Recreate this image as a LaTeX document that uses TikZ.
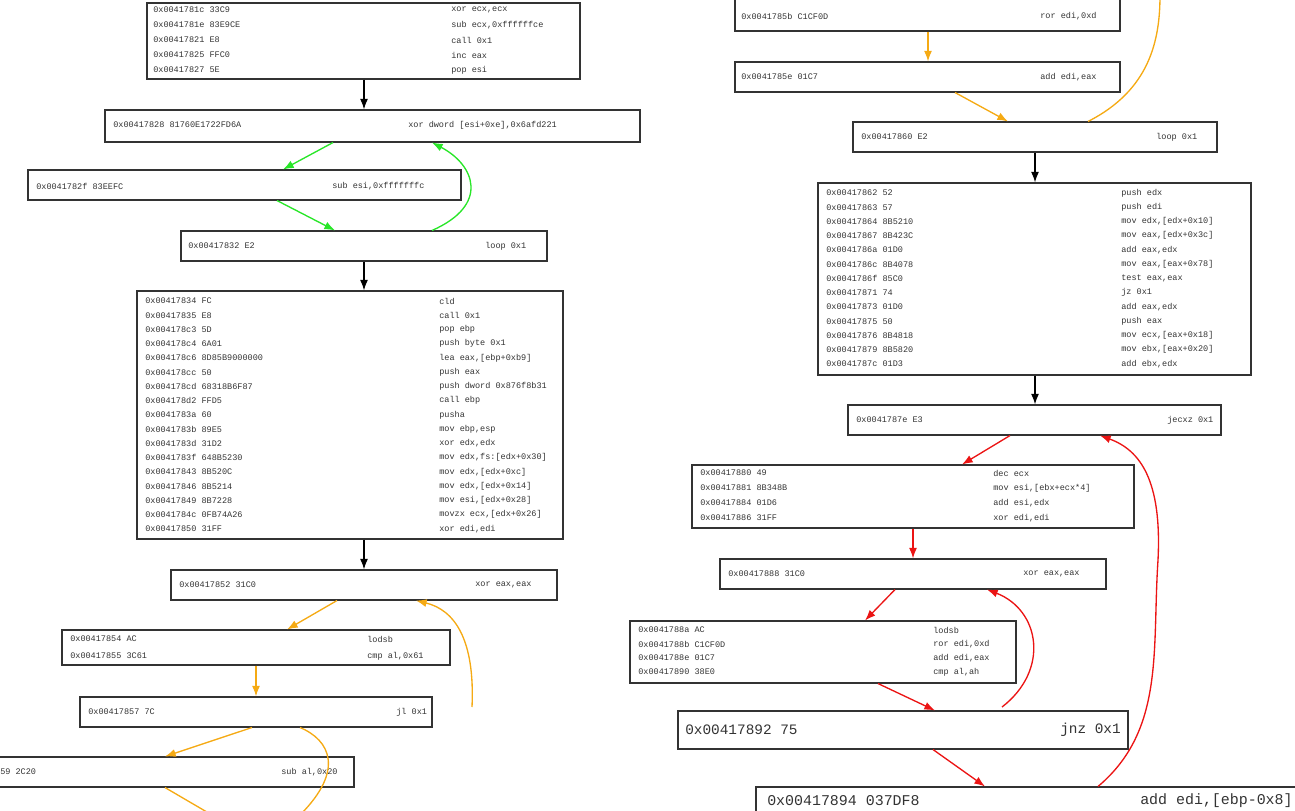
\documentclass[tikz,border=0pt]{standalone}
\usepackage{fontspec}
\setmonofont{Liberation Mono}
\usetikzlibrary{fit,arrows.meta}
\definecolor{gr}{RGB}{40,230,40}
\definecolor{og}{RGB}{245,170,20}
\definecolor{rd}{RGB}{235,20,20}
\tikzset{
 box/.style={draw=black!80,line width=0.8pt,inner sep=0pt},
 t/.style={anchor=west,inner sep=0pt,font=\ttfamily\fontsize{6.4}{7}\selectfont,text=black!80},
 tb/.style={anchor=west,inner sep=0pt,font=\ttfamily\fontsize{10.8}{12}\selectfont,text=black!80},
 e/.style={-{Latex[length=8pt,width=6pt]},line width=1pt},
 ge/.style={e,gr}, oe/.style={e,og}, re/.style={e,rd}, be/.style={e,black}
}
\newcommand{\bx}[5]{\node[box,fit={(#2,#3)(#4,#5)}] (#1) {};}
\newcommand{\lines}[5]{\foreach \a/\b [count=\i from 0] in {#5} {\node[t] at (#1,#3+\i*#4) {\a}; \node[t] at (#2,#3+\i*#4) {\b};}}
\begin{document}
\begin{tikzpicture}[x=0.75pt,y=-0.75pt]
\useasboundingbox (0,0) rectangle (1295,810);
\clip (0,0) rectangle (1295,810);
% left column
\bx{l1}{147}{3}{580}{79}
\lines{153}{451}{10}{15}{0x0041781c 33C9/{xor ecx,ecx},0x0041781e 83E9CE/{sub ecx,0xffffffce},0x00417821 E8/call 0x1,0x00417825 FFC0/inc eax,0x00417827 5E/pop esi}
\bx{l2}{105}{110}{640}{142}
\node[t] at (113,125) {0x00417828 81760E1722FD6A};
\node[t] at (408,125) {xor dword [esi+0xe],0x6afd221};
\bx{l3}{28}{170}{461}{200}
\node[t] at (36,186) {0x0041782f 83EEFC};
\node[t] at (332,186) {sub esi,0xfffffffc};
\bx{l4}{181}{231}{547}{261}
\node[t] at (188,246) {0x00417832 E2};
\node[t] at (485,246) {loop 0x1};
\bx{l5}{137}{291}{563}{539}
\lines{145}{439}{301}{14.25}{0x00417834 FC/cld,0x00417835 E8/call 0x1,0x004178c3 5D/pop ebp,0x004178c4 6A01/push byte 0x1,0x004178c6 8D85B9000000/{lea eax,[ebp+0xb9]},0x004178cc 50/push eax,0x004178cd 68318B6F87/push dword 0x876f8b31,0x004178d2 FFD5/call ebp,0x0041783a 60/pusha,0x0041783b 89E5/{mov ebp,esp},0x0041783d 31D2/{xor edx,edx},0x0041783f 648B5230/{mov edx,fs:[edx+0x30]},0x00417843 8B520C/{mov edx,[edx+0xc]},0x00417846 8B5214/{mov edx,[edx+0x14]},0x00417849 8B7228/{mov esi,[edx+0x28]},0x0041784c 0FB74A26/{movzx ecx,[edx+0x26]},0x00417850 31FF/{xor edi,edi}}
\bx{l6}{171}{570}{557}{600}
\node[t] at (179,585) {0x00417852 31C0};
\node[t] at (475,585) {xor eax,eax};
\bx{l7}{62}{630}{450}{665}
\lines{70}{367}{639}{17}{0x00417854 AC/lodsb,0x00417855 3C61/{cmp al,0x61}}
\bx{l8}{80}{697}{432}{727}
\node[t] at (88,712) {0x00417857 7C};
\node[t] at (396,712) {jl 0x1};
\bx{l9}{-10}{757}{354}{787}
\node[t] at (0,772) {59 2C20};
\node[t] at (281,772) {sub al,0x20};
% right column
\bx{r1}{735}{-5}{1120}{31}
\node[t] at (741,16) {0x0041785b C1CF0D};
\node[t] at (1040,16) {ror edi,0xd};
\bx{r2}{735}{62}{1120}{92}
\node[t] at (741,77) {0x0041785e 01C7};
\node[t] at (1040,77) {add edi,eax};
\bx{r3}{853}{122}{1217}{152}
\node[t] at (861,137) {0x00417860 E2};
\node[t] at (1156,137) {loop 0x1};
\bx{r4}{818}{183}{1251}{375}
\lines{826}{1121}{193}{14.25}{0x00417862 52/push edx,0x00417863 57/push edi,0x00417864 8B5210/{mov edx,[edx+0x10]},0x00417867 8B423C/{mov eax,[edx+0x3c]},0x0041786a 01D0/{add eax,edx},0x0041786c 8B4078/{mov eax,[eax+0x78]},0x0041786f 85C0/{test eax,eax},0x00417871 74/jz 0x1,0x00417873 01D0/{add eax,edx},0x00417875 50/push eax,0x00417876 8B4818/{mov ecx,[eax+0x18]},0x00417879 8B5820/{mov ebx,[eax+0x20]},0x0041787c 01D3/{add ebx,edx}}
\bx{r5}{848}{405}{1221}{435}
\node[t] at (856,420) {0x0041787e E3};
\node[t] at (1167,420) {jecxz 0x1};
\bx{r6}{692}{465}{1134}{528}
\lines{700}{993}{473}{15}{0x00417880 49/dec ecx,0x00417881 8B348B/{mov esi,[ebx+ecx*4]},0x00417884 01D6/{add esi,edx},0x00417886 31FF/{xor edi,edi}}
\bx{r7}{720}{559}{1106}{589}
\node[t] at (728,574) {0x00417888 31C0};
\node[t] at (1023,574) {xor eax,eax};
\bx{r8}{630}{621}{1016}{683}
\lines{638}{933}{630}{14}{0x0041788a AC/lodsb,0x0041788b C1CF0D/{ror edi,0xd},0x0041788e 01C7/{add edi,eax},0x00417890 38E0/{cmp al,ah}}
\bx{r9}{678}{711}{1128}{749}
\node[tb] at (685,730) {0x00417892 75};
\node[tb] at (1060,730) {jnz 0x1};
\bx{r10}{756}{787}{1320}{830}
\node[tb,font=\ttfamily\fontsize{11.2}{12}\selectfont] at (767,801) {0x00417894 037DF8};
\node[tb,font=\ttfamily\fontsize{11.2}{12}\selectfont] at (1140,801) {add edi,[ebp-0x8]};
% edges left
\draw[be] (364,0|-l1.south) -- (364,0|-l2.north);
\draw[ge] (333,0|-l2.south) -- (283,0|-l3.north);
\draw[ge] (277,0|-l3.south) -- (335,0|-l4.north);
\draw[ge] (432,0|-l4.north) .. controls (490,205) and (475,165) .. (432,0|-l2.south);
\draw[be] (364,0|-l4.south) -- (364,0|-l5.north);
\draw[be] (364,0|-l5.south) -- (364,0|-l6.north);
\draw[oe] (337,0|-l6.south) -- (287,0|-l7.north);
\draw[oe] (256,0|-l7.south) -- (256,0|-l8.north);
\draw[oe] (472,707) .. controls (475,640) and (455,610) .. (416,0|-l6.south);
\draw[oe] (252,0|-l8.south) -- (165,0|-l9.north);
\draw[og,line width=1pt] (300,0|-l8.south) .. controls (330,740) and (345,770) .. (300,815);
\draw[og,line width=1pt] (165,0|-l9.south) -- (212,815);
% edges right
\draw[oe] (928,0|-r1.south) -- (928,0|-r2.north);
\draw[oe] (955,0|-r2.south) -- (1008,0|-r3.north);
\draw[og,line width=1pt] (1088,0|-r3.north) .. controls (1150,90) and (1160,40) .. (1160,-5);
\draw[be] (1035,0|-r3.south) -- (1035,0|-r4.north);
\draw[be] (1035,0|-r4.south) -- (1035,0|-r5.north);
\draw[re] (1010,0|-r5.south) -- (962,0|-r6.north);
\draw[re] (913,0|-r6.south) -- (913,0|-r7.north);
\draw[re] (895,0|-r7.south) -- (865,0|-r8.north);
\draw[re] (1002,707) .. controls (1050,670) and (1040,610) .. (987,0|-r7.south);
\draw[re] (878,0|-r8.south) -- (935,0|-r9.north);
\draw[re] (933,0|-r9.south) -- (985,0|-r10.north);
\draw[re] (1098,0|-r10.north) .. controls (1165,730) and (1152,650) .. (1158,560) .. controls (1162,480) and (1140,450) .. (1100,0|-r5.south);
\end{tikzpicture}
\end{document}
